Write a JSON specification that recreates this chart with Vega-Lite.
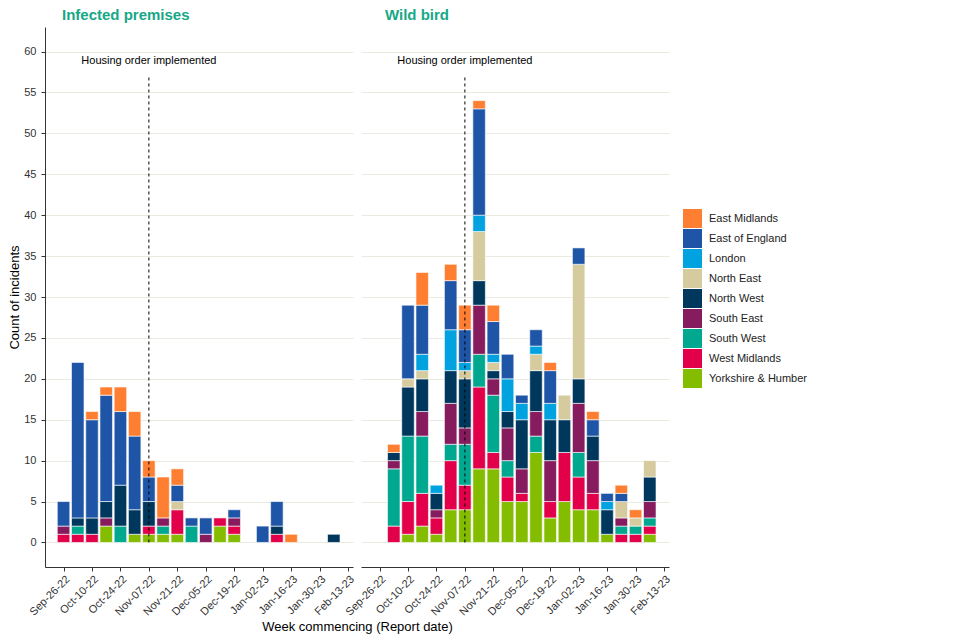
{
  "$schema": "https://vega.github.io/schema/vega-lite/v6.json",
  "background": "white",
  "padding": {"left": 8, "top": 8, "right": 5, "bottom": 5},
  "data": {
    "values": [
      {"panel": "IP", "week": "2022-09-26", "region": "West Midlands", "count": 1},
      {"panel": "IP", "week": "2022-09-26", "region": "South East", "count": 1},
      {"panel": "IP", "week": "2022-09-26", "region": "East of England", "count": 3},
      {"panel": "IP", "week": "2022-10-03", "region": "West Midlands", "count": 1},
      {"panel": "IP", "week": "2022-10-03", "region": "South West", "count": 1},
      {"panel": "IP", "week": "2022-10-03", "region": "North West", "count": 1},
      {"panel": "IP", "week": "2022-10-03", "region": "East of England", "count": 19},
      {"panel": "IP", "week": "2022-10-10", "region": "West Midlands", "count": 1},
      {"panel": "IP", "week": "2022-10-10", "region": "North West", "count": 2},
      {"panel": "IP", "week": "2022-10-10", "region": "East of England", "count": 12},
      {"panel": "IP", "week": "2022-10-10", "region": "East Midlands", "count": 1},
      {"panel": "IP", "week": "2022-10-17", "region": "Yorkshire & Humber", "count": 2},
      {"panel": "IP", "week": "2022-10-17", "region": "South East", "count": 1},
      {"panel": "IP", "week": "2022-10-17", "region": "North West", "count": 2},
      {"panel": "IP", "week": "2022-10-17", "region": "East of England", "count": 13},
      {"panel": "IP", "week": "2022-10-17", "region": "East Midlands", "count": 1},
      {"panel": "IP", "week": "2022-10-24", "region": "South West", "count": 2},
      {"panel": "IP", "week": "2022-10-24", "region": "North West", "count": 5},
      {"panel": "IP", "week": "2022-10-24", "region": "East of England", "count": 9},
      {"panel": "IP", "week": "2022-10-24", "region": "East Midlands", "count": 3},
      {"panel": "IP", "week": "2022-10-31", "region": "Yorkshire & Humber", "count": 1},
      {"panel": "IP", "week": "2022-10-31", "region": "North West", "count": 3},
      {"panel": "IP", "week": "2022-10-31", "region": "East of England", "count": 9},
      {"panel": "IP", "week": "2022-10-31", "region": "East Midlands", "count": 3},
      {"panel": "IP", "week": "2022-11-07", "region": "Yorkshire & Humber", "count": 1},
      {"panel": "IP", "week": "2022-11-07", "region": "West Midlands", "count": 1},
      {"panel": "IP", "week": "2022-11-07", "region": "North West", "count": 3},
      {"panel": "IP", "week": "2022-11-07", "region": "East of England", "count": 3},
      {"panel": "IP", "week": "2022-11-07", "region": "East Midlands", "count": 2},
      {"panel": "IP", "week": "2022-11-14", "region": "Yorkshire & Humber", "count": 1},
      {"panel": "IP", "week": "2022-11-14", "region": "South West", "count": 1},
      {"panel": "IP", "week": "2022-11-14", "region": "South East", "count": 1},
      {"panel": "IP", "week": "2022-11-14", "region": "East Midlands", "count": 5},
      {"panel": "IP", "week": "2022-11-21", "region": "Yorkshire & Humber", "count": 1},
      {"panel": "IP", "week": "2022-11-21", "region": "West Midlands", "count": 3},
      {"panel": "IP", "week": "2022-11-21", "region": "North East", "count": 1},
      {"panel": "IP", "week": "2022-11-21", "region": "East of England", "count": 2},
      {"panel": "IP", "week": "2022-11-21", "region": "East Midlands", "count": 2},
      {"panel": "IP", "week": "2022-11-28", "region": "South West", "count": 2},
      {"panel": "IP", "week": "2022-11-28", "region": "East of England", "count": 1},
      {"panel": "IP", "week": "2022-12-05", "region": "South East", "count": 1},
      {"panel": "IP", "week": "2022-12-05", "region": "East of England", "count": 2},
      {"panel": "IP", "week": "2022-12-12", "region": "Yorkshire & Humber", "count": 2},
      {"panel": "IP", "week": "2022-12-12", "region": "West Midlands", "count": 1},
      {"panel": "IP", "week": "2022-12-19", "region": "Yorkshire & Humber", "count": 1},
      {"panel": "IP", "week": "2022-12-19", "region": "West Midlands", "count": 1},
      {"panel": "IP", "week": "2022-12-19", "region": "South East", "count": 1},
      {"panel": "IP", "week": "2022-12-19", "region": "East of England", "count": 1},
      {"panel": "IP", "week": "2023-01-02", "region": "East of England", "count": 2},
      {"panel": "IP", "week": "2023-01-09", "region": "West Midlands", "count": 1},
      {"panel": "IP", "week": "2023-01-09", "region": "North West", "count": 1},
      {"panel": "IP", "week": "2023-01-09", "region": "East of England", "count": 3},
      {"panel": "IP", "week": "2023-01-16", "region": "East Midlands", "count": 1},
      {"panel": "IP", "week": "2023-02-06", "region": "North West", "count": 1},

      {"panel": "WB", "week": "2022-10-03", "region": "West Midlands", "count": 2},
      {"panel": "WB", "week": "2022-10-03", "region": "South West", "count": 7},
      {"panel": "WB", "week": "2022-10-03", "region": "South East", "count": 1},
      {"panel": "WB", "week": "2022-10-03", "region": "North West", "count": 1},
      {"panel": "WB", "week": "2022-10-03", "region": "East Midlands", "count": 1},
      {"panel": "WB", "week": "2022-10-10", "region": "Yorkshire & Humber", "count": 1},
      {"panel": "WB", "week": "2022-10-10", "region": "West Midlands", "count": 4},
      {"panel": "WB", "week": "2022-10-10", "region": "South West", "count": 8},
      {"panel": "WB", "week": "2022-10-10", "region": "North West", "count": 6},
      {"panel": "WB", "week": "2022-10-10", "region": "North East", "count": 1},
      {"panel": "WB", "week": "2022-10-10", "region": "East of England", "count": 9},
      {"panel": "WB", "week": "2022-10-17", "region": "Yorkshire & Humber", "count": 2},
      {"panel": "WB", "week": "2022-10-17", "region": "West Midlands", "count": 4},
      {"panel": "WB", "week": "2022-10-17", "region": "South West", "count": 7},
      {"panel": "WB", "week": "2022-10-17", "region": "South East", "count": 3},
      {"panel": "WB", "week": "2022-10-17", "region": "North West", "count": 4},
      {"panel": "WB", "week": "2022-10-17", "region": "North East", "count": 1},
      {"panel": "WB", "week": "2022-10-17", "region": "London", "count": 2},
      {"panel": "WB", "week": "2022-10-17", "region": "East of England", "count": 6},
      {"panel": "WB", "week": "2022-10-17", "region": "East Midlands", "count": 4},
      {"panel": "WB", "week": "2022-10-24", "region": "Yorkshire & Humber", "count": 1},
      {"panel": "WB", "week": "2022-10-24", "region": "West Midlands", "count": 2},
      {"panel": "WB", "week": "2022-10-24", "region": "South East", "count": 1},
      {"panel": "WB", "week": "2022-10-24", "region": "North West", "count": 2},
      {"panel": "WB", "week": "2022-10-24", "region": "London", "count": 1},
      {"panel": "WB", "week": "2022-10-31", "region": "Yorkshire & Humber", "count": 4},
      {"panel": "WB", "week": "2022-10-31", "region": "West Midlands", "count": 6},
      {"panel": "WB", "week": "2022-10-31", "region": "South West", "count": 2},
      {"panel": "WB", "week": "2022-10-31", "region": "South East", "count": 5},
      {"panel": "WB", "week": "2022-10-31", "region": "North West", "count": 4},
      {"panel": "WB", "week": "2022-10-31", "region": "London", "count": 5},
      {"panel": "WB", "week": "2022-10-31", "region": "East of England", "count": 6},
      {"panel": "WB", "week": "2022-10-31", "region": "East Midlands", "count": 2},
      {"panel": "WB", "week": "2022-11-07", "region": "Yorkshire & Humber", "count": 4},
      {"panel": "WB", "week": "2022-11-07", "region": "West Midlands", "count": 3},
      {"panel": "WB", "week": "2022-11-07", "region": "South West", "count": 5},
      {"panel": "WB", "week": "2022-11-07", "region": "South East", "count": 2},
      {"panel": "WB", "week": "2022-11-07", "region": "North West", "count": 6},
      {"panel": "WB", "week": "2022-11-07", "region": "North East", "count": 1},
      {"panel": "WB", "week": "2022-11-07", "region": "London", "count": 1},
      {"panel": "WB", "week": "2022-11-07", "region": "East of England", "count": 4},
      {"panel": "WB", "week": "2022-11-07", "region": "East Midlands", "count": 3},
      {"panel": "WB", "week": "2022-11-14", "region": "Yorkshire & Humber", "count": 9},
      {"panel": "WB", "week": "2022-11-14", "region": "West Midlands", "count": 10},
      {"panel": "WB", "week": "2022-11-14", "region": "South West", "count": 4},
      {"panel": "WB", "week": "2022-11-14", "region": "South East", "count": 6},
      {"panel": "WB", "week": "2022-11-14", "region": "North West", "count": 3},
      {"panel": "WB", "week": "2022-11-14", "region": "North East", "count": 6},
      {"panel": "WB", "week": "2022-11-14", "region": "London", "count": 2},
      {"panel": "WB", "week": "2022-11-14", "region": "East of England", "count": 13},
      {"panel": "WB", "week": "2022-11-14", "region": "East Midlands", "count": 1},
      {"panel": "WB", "week": "2022-11-21", "region": "Yorkshire & Humber", "count": 9},
      {"panel": "WB", "week": "2022-11-21", "region": "West Midlands", "count": 2},
      {"panel": "WB", "week": "2022-11-21", "region": "South West", "count": 7},
      {"panel": "WB", "week": "2022-11-21", "region": "South East", "count": 2},
      {"panel": "WB", "week": "2022-11-21", "region": "North West", "count": 1},
      {"panel": "WB", "week": "2022-11-21", "region": "North East", "count": 1},
      {"panel": "WB", "week": "2022-11-21", "region": "London", "count": 1},
      {"panel": "WB", "week": "2022-11-21", "region": "East of England", "count": 4},
      {"panel": "WB", "week": "2022-11-21", "region": "East Midlands", "count": 2},
      {"panel": "WB", "week": "2022-11-28", "region": "Yorkshire & Humber", "count": 5},
      {"panel": "WB", "week": "2022-11-28", "region": "West Midlands", "count": 3},
      {"panel": "WB", "week": "2022-11-28", "region": "South West", "count": 2},
      {"panel": "WB", "week": "2022-11-28", "region": "South East", "count": 4},
      {"panel": "WB", "week": "2022-11-28", "region": "North West", "count": 2},
      {"panel": "WB", "week": "2022-11-28", "region": "London", "count": 4},
      {"panel": "WB", "week": "2022-11-28", "region": "East of England", "count": 3},
      {"panel": "WB", "week": "2022-12-05", "region": "Yorkshire & Humber", "count": 5},
      {"panel": "WB", "week": "2022-12-05", "region": "West Midlands", "count": 1},
      {"panel": "WB", "week": "2022-12-05", "region": "South East", "count": 3},
      {"panel": "WB", "week": "2022-12-05", "region": "North West", "count": 6},
      {"panel": "WB", "week": "2022-12-05", "region": "London", "count": 2},
      {"panel": "WB", "week": "2022-12-05", "region": "East of England", "count": 1},
      {"panel": "WB", "week": "2022-12-12", "region": "Yorkshire & Humber", "count": 11},
      {"panel": "WB", "week": "2022-12-12", "region": "South West", "count": 2},
      {"panel": "WB", "week": "2022-12-12", "region": "South East", "count": 3},
      {"panel": "WB", "week": "2022-12-12", "region": "North West", "count": 5},
      {"panel": "WB", "week": "2022-12-12", "region": "North East", "count": 2},
      {"panel": "WB", "week": "2022-12-12", "region": "London", "count": 1},
      {"panel": "WB", "week": "2022-12-12", "region": "East of England", "count": 2},
      {"panel": "WB", "week": "2022-12-19", "region": "Yorkshire & Humber", "count": 3},
      {"panel": "WB", "week": "2022-12-19", "region": "West Midlands", "count": 2},
      {"panel": "WB", "week": "2022-12-19", "region": "South East", "count": 5},
      {"panel": "WB", "week": "2022-12-19", "region": "North West", "count": 5},
      {"panel": "WB", "week": "2022-12-19", "region": "London", "count": 2},
      {"panel": "WB", "week": "2022-12-19", "region": "East of England", "count": 4},
      {"panel": "WB", "week": "2022-12-19", "region": "East Midlands", "count": 1},
      {"panel": "WB", "week": "2022-12-26", "region": "Yorkshire & Humber", "count": 5},
      {"panel": "WB", "week": "2022-12-26", "region": "West Midlands", "count": 6},
      {"panel": "WB", "week": "2022-12-26", "region": "North West", "count": 4},
      {"panel": "WB", "week": "2022-12-26", "region": "North East", "count": 3},
      {"panel": "WB", "week": "2023-01-02", "region": "Yorkshire & Humber", "count": 4},
      {"panel": "WB", "week": "2023-01-02", "region": "West Midlands", "count": 4},
      {"panel": "WB", "week": "2023-01-02", "region": "South West", "count": 3},
      {"panel": "WB", "week": "2023-01-02", "region": "South East", "count": 6},
      {"panel": "WB", "week": "2023-01-02", "region": "North West", "count": 3},
      {"panel": "WB", "week": "2023-01-02", "region": "North East", "count": 14},
      {"panel": "WB", "week": "2023-01-02", "region": "East of England", "count": 2},
      {"panel": "WB", "week": "2023-01-09", "region": "Yorkshire & Humber", "count": 4},
      {"panel": "WB", "week": "2023-01-09", "region": "West Midlands", "count": 2},
      {"panel": "WB", "week": "2023-01-09", "region": "South East", "count": 4},
      {"panel": "WB", "week": "2023-01-09", "region": "North West", "count": 3},
      {"panel": "WB", "week": "2023-01-09", "region": "East of England", "count": 2},
      {"panel": "WB", "week": "2023-01-09", "region": "East Midlands", "count": 1},
      {"panel": "WB", "week": "2023-01-16", "region": "Yorkshire & Humber", "count": 1},
      {"panel": "WB", "week": "2023-01-16", "region": "North West", "count": 3},
      {"panel": "WB", "week": "2023-01-16", "region": "London", "count": 1},
      {"panel": "WB", "week": "2023-01-16", "region": "East of England", "count": 1},
      {"panel": "WB", "week": "2023-01-23", "region": "West Midlands", "count": 1},
      {"panel": "WB", "week": "2023-01-23", "region": "South West", "count": 1},
      {"panel": "WB", "week": "2023-01-23", "region": "South East", "count": 1},
      {"panel": "WB", "week": "2023-01-23", "region": "North East", "count": 2},
      {"panel": "WB", "week": "2023-01-23", "region": "East of England", "count": 1},
      {"panel": "WB", "week": "2023-01-23", "region": "East Midlands", "count": 1},
      {"panel": "WB", "week": "2023-01-30", "region": "West Midlands", "count": 1},
      {"panel": "WB", "week": "2023-01-30", "region": "South West", "count": 1},
      {"panel": "WB", "week": "2023-01-30", "region": "North East", "count": 1},
      {"panel": "WB", "week": "2023-01-30", "region": "East Midlands", "count": 1},
      {"panel": "WB", "week": "2023-02-06", "region": "Yorkshire & Humber", "count": 1},
      {"panel": "WB", "week": "2023-02-06", "region": "West Midlands", "count": 1},
      {"panel": "WB", "week": "2023-02-06", "region": "South West", "count": 1},
      {"panel": "WB", "week": "2023-02-06", "region": "South East", "count": 2},
      {"panel": "WB", "week": "2023-02-06", "region": "North West", "count": 3},
      {"panel": "WB", "week": "2023-02-06", "region": "North East", "count": 2}
    ]
  },
  "spacing": 8,
  "bounds": "flush",
  "hconcat": [
    {
      "width": 308,
      "height": 540,
      "title": {"text": "Infected premises", "anchor": "start", "frame": "group", "dx": 17},
      "encoding": {
        "x": {
          "field": "week",
          "type": "temporal",
          "scale": {
            "type": "utc",
            "domain": [
              {"year": 2022, "month": 9, "date": 19, "hours": 8, "utc": true},
              {"year": 2023, "month": 2, "date": 13, "utc": true}
            ]
          },
          "axis": {
            "title": "Week commencing (Report date)",
            "titleX": 312,
            "labelOverlap": false,
            "labelSeparation": 0,
            "values": [
              {"year": 2022, "month": 9, "date": 26, "utc": true},
              {"year": 2022, "month": 10, "date": 10, "utc": true},
              {"year": 2022, "month": 10, "date": 24, "utc": true},
              {"year": 2022, "month": 11, "date": 7, "utc": true},
              {"year": 2022, "month": 11, "date": 21, "utc": true},
              {"year": 2022, "month": 12, "date": 5, "utc": true},
              {"year": 2022, "month": 12, "date": 19, "utc": true},
              {"year": 2023, "month": 1, "date": 2, "utc": true},
              {"year": 2023, "month": 1, "date": 16, "utc": true},
              {"year": 2023, "month": 1, "date": 30, "utc": true},
              {"year": 2023, "month": 2, "date": 13, "utc": true}
            ]
          }
        }
      },
      "layer": [
        {
          "transform": [{"filter": "datum.panel === 'IP'"}],
          "mark": {"type": "bar", "width": 12.5, "stroke": "white", "strokeWidth": 0.6},
          "encoding": {
            "y": {
              "aggregate": "sum",
              "field": "count",
              "type": "quantitative",
              "scale": {"domain": [-3, 63], "nice": false, "zero": false},
              "axis": {
                "title": "Count of incidents",
                "values": [0, 5, 10, 15, 20, 25, 30, 35, 40, 45, 50, 55, 60]
              }
            },
            "color": {
              "field": "region",
              "type": "nominal",
              "scale": {
                "domain": ["East Midlands", "East of England", "London", "North East", "North West", "South East", "South West", "West Midlands", "Yorkshire & Humber"],
                "range": ["#FF7F32", "#1F55A6", "#00A3E0", "#D5CB9F", "#00385D", "#861B5E", "#00A88F", "#E2004A", "#84BD00"]
              },
              "legend": {"title": null}
            },
            "order": {"field": "region", "sort": "descending"}
          }
        },
        {
          "data": {"values": [{"week": "2022-11-07", "event": "Housing order implemented"}]},
          "mark": {"type": "rule", "color": "black", "strokeWidth": 1, "strokeDash": [3, 3]},
          "encoding": {
            "y": {"datum": 0},
            "y2": {"datum": 57}
          }
        },
        {
          "data": {"values": [{"week": "2022-11-07", "event": "Housing order implemented"}]},
          "mark": {"type": "text", "fontSize": 11, "color": "black", "align": "center", "baseline": "middle"},
          "encoding": {
            "y": {"datum": 58.8},
            "text": {"field": "event"}
          }
        }
      ]
    },
    {
      "width": 308,
      "height": 540,
      "title": {"text": "Wild bird", "anchor": "start", "frame": "group", "dx": 24},
      "encoding": {
        "x": {
          "field": "week",
          "type": "temporal",
          "scale": {
            "type": "utc",
            "domain": [
              {"year": 2022, "month": 9, "date": 19, "hours": 8, "utc": true},
              {"year": 2023, "month": 2, "date": 13, "utc": true}
            ]
          },
          "axis": {
            "title": null,
            "labelOverlap": false,
            "labelSeparation": 0,
            "values": [
              {"year": 2022, "month": 9, "date": 26, "utc": true},
              {"year": 2022, "month": 10, "date": 10, "utc": true},
              {"year": 2022, "month": 10, "date": 24, "utc": true},
              {"year": 2022, "month": 11, "date": 7, "utc": true},
              {"year": 2022, "month": 11, "date": 21, "utc": true},
              {"year": 2022, "month": 12, "date": 5, "utc": true},
              {"year": 2022, "month": 12, "date": 19, "utc": true},
              {"year": 2023, "month": 1, "date": 2, "utc": true},
              {"year": 2023, "month": 1, "date": 16, "utc": true},
              {"year": 2023, "month": 1, "date": 30, "utc": true},
              {"year": 2023, "month": 2, "date": 13, "utc": true}
            ]
          }
        }
      },
      "layer": [
        {
          "transform": [{"filter": "datum.panel === 'WB'"}],
          "mark": {"type": "bar", "width": 12.5, "stroke": "white", "strokeWidth": 0.6},
          "encoding": {
            "y": {
              "aggregate": "sum",
              "field": "count",
              "type": "quantitative",
              "scale": {"domain": [-3, 63], "nice": false, "zero": false},
              "axis": {
                "title": null,
                "labels": false,
                "ticks": false,
                "domain": false,
                "minExtent": 0,
                "values": [0, 5, 10, 15, 20, 25, 30, 35, 40, 45, 50, 55, 60]
              }
            },
            "color": {
              "field": "region",
              "type": "nominal",
              "scale": {
                "domain": ["East Midlands", "East of England", "London", "North East", "North West", "South East", "South West", "West Midlands", "Yorkshire & Humber"],
                "range": ["#FF7F32", "#1F55A6", "#00A3E0", "#D5CB9F", "#00385D", "#861B5E", "#00A88F", "#E2004A", "#84BD00"]
              },
              "legend": {"title": null}
            },
            "order": {"field": "region", "sort": "descending"}
          }
        },
        {
          "data": {"values": [{"week": "2022-11-07", "event": "Housing order implemented"}]},
          "mark": {"type": "rule", "color": "black", "strokeWidth": 1, "strokeDash": [3, 3]},
          "encoding": {
            "y": {"datum": 0},
            "y2": {"datum": 57}
          }
        },
        {
          "data": {"values": [{"week": "2022-11-07", "event": "Housing order implemented"}]},
          "mark": {"type": "text", "fontSize": 11, "color": "black", "align": "center", "baseline": "middle"},
          "encoding": {
            "y": {"datum": 58.8},
            "text": {"field": "event"}
          }
        }
      ]
    }
  ],
  "resolve": {"scale": {"color": "shared"}},
  "config": {
    "font": "Liberation Sans",
    "view": {"stroke": null},
    "title": {
      "fontSize": 15,
      "fontWeight": "bold",
      "color": "#16A887",
      "offset": 4
    },
    "axis": {
      "labelFontSize": 11,
      "labelColor": "#333333",
      "titleFontSize": 13,
      "titleFontWeight": "normal",
      "titleColor": "black",
      "domainColor": "#333333",
      "tickColor": "#333333",
      "tickSize": 4,
      "gridColor": "#EAEAE0",
      "gridWidth": 1,
      "labelOverlap": false
    },
    "axisX": {
      "grid": false,
      "format": "%b-%d-%y",
      "labelAngle": -45,
      "labelAlign": "right",
      "labelBaseline": "top",
      "labelPadding": 2,
      "titlePadding": 3
    },
    "axisY": {
      "grid": true,
      "labelPadding": 5,
      "titlePadding": 2
    },
    "legend": {
      "orient": "none",
      "legendX": 638,
      "legendY": 182,
      "symbolType": "square",
      "symbolSize": 361,
      "symbolStrokeWidth": 0,
      "rowPadding": 1,
      "labelFontSize": 11,
      "labelColor": "#222222",
      "labelOffset": 7
    }
  }
}
